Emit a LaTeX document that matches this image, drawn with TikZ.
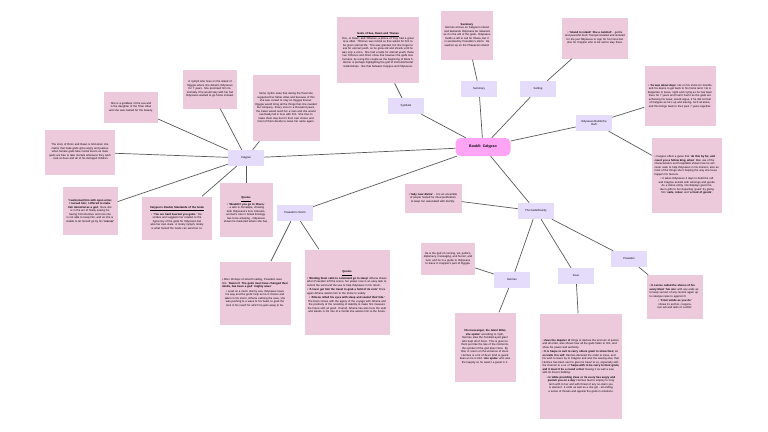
\documentclass[tikz,border=0pt]{standalone}
\usepackage{fontspec}
\setmainfont{Liberation Sans}
\begin{document}
\begin{tikzpicture}[x=1pt,y=-1pt,
  tiny/.style={font=\fontsize{2.75}{3.5}\selectfont},
  topic/.style={fill=lav,draw=none,minimum width=36pt,minimum height=16pt,inner sep=1pt,tiny,align=center},
  note/.style={fill=pinkbox,draw=none,inner sep=1.5pt,tiny,align=center},
  link/.style={draw=black!65,line width=0.7pt}]
\definecolor{lav}{HTML}{E5DBFB}
\definecolor{pinkbox}{HTML}{EDC9DC}
\definecolor{core}{HTML}{FDA4F4}
\useasboundingbox (0,0) rectangle (768,431);
\newcommand{\pbox}[6]{\node[note,minimum width=#4pt,minimum height=#5pt,text width=#4pt-5pt] (#1) at (#2,#3) {#6};}
\node[fill=core,rounded corners=5pt,minimum width=55pt,minimum height=18pt,font=\fontsize{3.6}{4}\selectfont\bfseries] (c) at (483,147) {Book5: Calypso};
\node[topic] (sym) at (406,106) {Symbols};
\node[topic] (sum) at (479,89) {Summary};
\node[topic] (set) at (538,89) {Setting};
\node[topic] (raft) at (594,123) {Odysseus Builds the\\Raft};
\node[topic] (cal) at (246,158) {Calypso};
\node[topic] (storm) at (295,213) {Poseidon's Storm};
\node[topic] (div) at (536,211) {The Gods/Divinity};
\node[topic] (her) at (512,280) {Hermes};
\node[topic] (zeus) at (576,276) {Zeus};
\node[topic] (pos) at (629,259) {Poseidon};

\pbox{gods}{378}{50}{82}{66}{\underline{\textbf{Gods of Sea, Dawn and Titanes}}\\ Eos, or Dawn, and Tithonus, a prince of Troy, had a great love affair. Tithonus was mortal so Eos asked for him to be given eternal life. This was granted, but she forgot to ask for eternal youth, so he grew old and shrank until he was only a voice. She had a taste for eternal youth; these two Tithonus and Orion show that however the gods love humans, by using this couple as the beginning of Book 5, Homer is perhaps highlighting the gulf of immortal/mortal relationships - like that between Calypso and Odysseus.}
\pbox{sumb}{467}{35}{52}{49}{\textbf{Summary}\\ Hermes arrives on Calypso's island and demands Odysseus be released as it is the will of the gods. Odysseus builds a raft to sail for Ithaca, but it is wrecked by Poseidon's storm. He washes up on the Phaeacian island.}
\pbox{setb}{595}{38}{66}{41}{\raggedright\textbullet\ \textbf{`Island to island'} `\textbf{like a nutshell}' - gentle and peaceful feels Tranquil isolated and isolated for the just Odysseus to sign for his home but also for Calypso who to be sad to stay there.}
\pbox{raft1}{680}{96}{71}{60}{\raggedright\textbullet\ \textbf{`he was about days'} sits on his shore for months and his desire to get back to his home land. He is desperate to leave, night and crying as he has been there for 7 years and hasn't had it as the gods are achieving his leave; would argue, if he did not feel of Calypso as he's up and leaving, he'd all alone, and this brings back to their past 7 years together.}
\pbox{raft2}{687}{175}{70}{75}{\raggedright\textbullet\ Calypso offers a guise that `\textbf{do this by far, and count you a fellow king, when}' Man use of the characteristics and hospitable shows how he will never seek to help Odysseus in his mission, also as most of the things she's helping the way she loves happen his favours.\\[1pt]
\textbullet\ It takes Odysseus 4 days to build the raft and Calypso assists with winnings and goods. As a divine entity, she displays good media in gifts to her departing `guest' by giving him `\textbf{sails, robes}' and `\textbf{a food of goods}'.}
\pbox{myth}{286}{108}{67}{66}{Some mythic state that during the flood she supported her father Atlas and because of this she was cursed to stay on Ogygia forever. Ogygia would bring all the things that she needed but company. Every once in a thousand years, the Fates would send her a man and she would eventually fall in love with him. She tries to make them stay but it's their own choice and most of them decide to leave her alone again.}
\pbox{nym}{210}{89}{54}{39}{A nymph who lives on the island of Ogygia where she detains Odysseus for 7 years. She promised him immortality if he would stay with her but Odysseus wanted to go home instead.}
\pbox{god}{131}{107}{54}{31}{She is a goddess of the sea and is the daughter of the Titan Atlas and she was named for the beauty.}
\pbox{story}{80}{152}{70}{45}{The story of Orion and Dawn is told when she claims that male gods grow angry and jealous when female gods take mortal lovers as male gods are free to take mortals whenever they wish - look at Zeus and all of his demigod children.}
\pbox{quo}{90}{211}{55}{48}{\textbf{`I welcomed him with open arms; I nursed him; I offered to make him immortal as a god},' Here she is in the act of finally seeing his having from Hermes and now she is not able to keep him, and as she is unable to let herself go by his \textbf{`rescue'}}
\pbox{dbl}{177}{218}{70}{43}{\underline{\textbf{Calypso's Double Standards of the Gods}}\\[1pt]\raggedright\textbullet\ \textbf{`You are hard hearted you gods.'} Describes and suggests her relation to the hypocrisy of the gods for Odysseus but also her own state. A lonely nymph, lonely is what herself the Gods can send her to.}
\pbox{cq}{246}{210}{53}{54}{\underline{\textbf{Quotes}}\\[1pt]\raggedright\textbullet\ \textbf{`Wouldn't you go to Ithaca},' - a wife in Penelope, showing both Odysseus's love interests, woman's role in Greek Ecology, has to be amazing - Odysseus shows he mastered what's she has.}
\pbox{sl}{255}{293}{71}{63}{\raggedright\textbullet\ After 18 days of smooth sailing, Poseidon sees him: `\textbf{Damn it! The gods must have changed their minds, has been a god}' `\textbf{mighty wave}'\\[1pt]
\textbullet\ Lead on a much stormy sea, Odysseus loses his way and the gods' help as he is thrown and taken in his storm, Athena calming the seas, she was pushing to a wave to his head, to grab the rock in his reach for which he gets away to be.}
\pbox{sq}{347}{292}{85}{85}{\underline{\textbf{Quotes}}\\[1pt]\raggedright\textbullet\ \textbf{`Binding them calm to command go to sleep'} Athena shows when Poseidon left the scene, her power now is an easy task to control the wind and the sea to help Odysseus in his return.\\[1pt]
\textbullet\ \textbf{`A lover get him the travel to grab a hold of its rock'} Once again Athena assists him to the shore to safety.\\[1pt]
\textbullet\ \textbf{`Athena rolled his eyes with sleep and sealed their lids.'} The book closes with the agony of the voyage with Athena and the positivity of the revisiting of stability to make him measure the future with all good. Overall, Athena has also here the safe and stands in his role of a mortal she assists him to the future.}
\pbox{lady}{433}{198}{57}{29}{\raggedright\textbullet\ \textbf{`lady near divine'} - It is an ensemble of proper hosted for ritual justification to keep her associated with divinity.}
\pbox{hd}{448}{259}{54}{32}{He is the god of cunning, wit, politics, diplomacy, messaging, and humor, and luck, and he is a guide to Odysseus to leave in Calypso's part of Ogygia.}
\pbox{hq}{485}{347}{61}{69}{\textbf{`His messenger, the Giant Killer, she spoke'} according to myth,\\ Hermes slew the hundred-eyed giant who kept all of Zeus. This is given to them just like the tale of the moments, the symbol of the god does Hera. By that, in return on the entrance of Zeus.\\ Hermes is a lot of Zeus' kind to guard does as he is told, `\textbf{she spoke}' who was the happily so he wasn't a guest in it.}
\pbox{zb}{581}{366}{82}{105}{\raggedright\textbullet\ \textbf{Zeus the deputer of} Kings to declare the and son of justice and all order, also shows how all the gods listen to him, and show his power and authority.\\[1pt]
\textbullet\ \textbf{It is harpe to suit to carry others grant to show their, or so trails it is will}' Hermes declared the order to Zeus, and his wish to leave by to Calypso and also the waving else, that Hermes has been sent to give his travel to us, especially with the channel to a us of `\textbf{harpe with to be carry to their grant, and it must it be a round a that}' Having it as well a saw with its Zeus's bidding.\\[1pt]
\textbullet\ \textbf{Is while providing Zeus or its every has angry and punish you on a day}' Hermes feat to employ to long term with to her and with threat of any no-claim you is element. It ends as well as a she got - all ending a sense of threats and against the gods in emotions.}
\pbox{pb}{675}{297}{56}{44}{\raggedright\textbullet\ \textbf{It can be called the shores of his every blast}' `\textbf{his one}' with any ends as to keep version of any restore again up to catalyse raise to against O.\\[1pt]
\textbullet\ \textbf{`From winds as you do'} shows its anchor, cooperative will and lasts of conflict.}

\foreach \t in {sym,sum,set,raft,cal,storm,div} \draw[link] (c) -- (\t);
\draw[link] (sym) -- (gods); \draw[link] (sum) -- (sumb); \draw[link] (set) -- (setb);
\draw[link] (raft) -- (raft1); \draw[link] (raft) -- (raft2);
\foreach \t in {nym,god,story,quo,dbl,cq,myth} \draw[link] (cal) -- (\t);
\draw[link] (storm) -- (sl); \draw[link] (storm) -- (sq);
\foreach \t in {lady,her,zeus,pos} \draw[link] (div) -- (\t);
\draw[link] (her) -- (hd); \draw[link] (her) -- (hq);
\draw[link] (zeus) -- (zb); \draw[link] (pos) -- (pb);
\end{tikzpicture}
\end{document}
